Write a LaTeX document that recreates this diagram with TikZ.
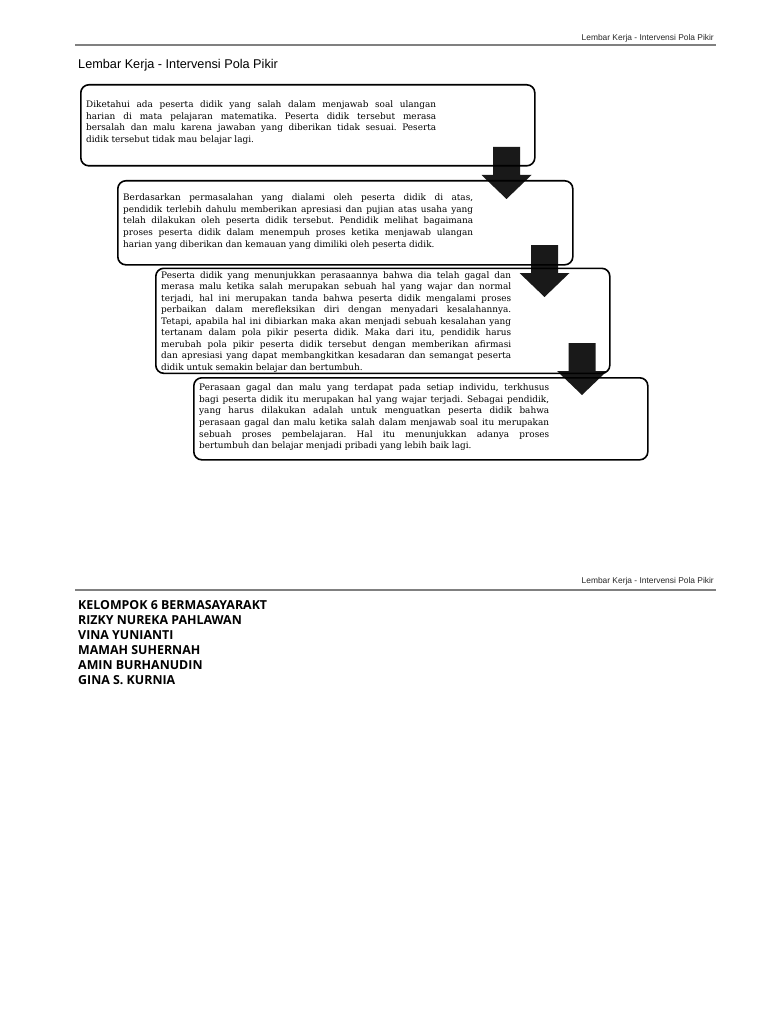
\documentclass[tikz,border=0pt]{standalone}
\usepackage{fontspec}
\setmainfont{DejaVu Serif}
\newfontfamily\hdrfont{Liberation Sans}
\newfontfamily\namefont{Open Sans}
\begin{document}
\begin{tikzpicture}[x=1pt,y=-1pt]
\tikzset{
  box/.style={draw=black, line width=1.6pt, rounded corners=8pt, minimum width=#1, minimum height=81pt, inner sep=0pt, anchor=north west},
  txt/.style={anchor=north west, inner sep=0pt, text width=350pt, align=justify, font=\frenchspacing\fontsize{8.9}{11.7}\selectfont},
  smallhdr/.style={anchor=east, inner sep=0pt, font=\hdrfont\fontsize{8.4}{10}\selectfont, text=black!85},
  rule/.style={draw=black!50, line width=2pt},
  names/.style={anchor=north west, inner sep=0pt, align=left, font=\namefont\bfseries\fontsize{12.4}{15}\selectfont},
  blockarrow/.pic={\fill[black!90] (-13.5,0) -- (13.5,0) -- (13.5,28) -- (25,28) -- (0,52) -- (-25,28) -- (-13.5,28) -- cycle;}
}
\fill[white] (0,0) rectangle (768,1024);
\useasboundingbox (0,0) rectangle (768,1024);

% header
\node[smallhdr] (h1) at (714,38) {Lembar Kerja - Intervensi Pola Pikir};
\coordinate (r1a) at (75,45);
\coordinate (r1b) at (716,45);
\draw[rule] (r1a) -- (r1b);
\node[anchor=west, inner sep=0pt, font=\hdrfont\fontsize{12.7}{15}\selectfont] (title) at (78,65) {Lembar Kerja - Intervensi Pola Pikir};

% arrows (behind boxes)
\pic at (506.5,147) {blockarrow};
\pic at (544.5,245) {blockarrow};
\pic at (582,343) {blockarrow};

% boxes
\node[box=454pt] (b1) at (80,84) {};
\node[box=455pt, minimum height=84pt] (b2) at (117,180) {};
\node[box=454pt, minimum height=105pt] (b3) at (155,267.5) {};
\node[box=454pt, minimum height=82pt] (b4) at (193,377) {};

\node[txt] (t1) at (86,100.5) {Diketahui ada peserta didik yang salah dalam menjawab soal ulangan\linebreak
harian di mata pelajaran matematika. Peserta didik tersebut merasa\linebreak
bersalah dan malu karena jawaban yang diberikan tidak sesuai. Peserta\linebreak
didik tersebut tidak mau belajar lagi.};

\node[txt] (t2) at (123,193.5) {Berdasarkan permasalahan yang dialami oleh peserta didik di atas,\linebreak
pendidik terlebih dahulu memberikan apresiasi dan pujian atas usaha yang\linebreak
telah dilakukan oleh peserta didik tersebut. Pendidik melihat bagaimana\linebreak
proses peserta didik dalam menempuh proses ketika menjawab ulangan\linebreak
harian yang diberikan dan kemauan yang dimiliki oleh peserta didik.};

\node[txt, font=\frenchspacing\fontsize{8.9}{11.45}\selectfont] (t3) at (161,271.5) {Peserta didik yang menunjukkan perasaannya bahwa dia telah gagal dan\linebreak
merasa malu ketika salah merupakan sebuah hal yang wajar dan normal\linebreak
terjadi, hal ini merupakan tanda bahwa peserta didik mengalami proses\linebreak
perbaikan dalam merefleksikan diri dengan menyadari kesalahannya.\linebreak
Tetapi, apabila hal ini dibiarkan maka akan menjadi sebuah kesalahan yang\linebreak
tertanam dalam pola pikir peserta didik. Maka dari itu, pendidik harus\linebreak
merubah pola pikir peserta didik tersebut dengan memberikan afirmasi\linebreak
dan apresiasi yang dapat membangkitkan kesadaran dan semangat peserta\linebreak
didik untuk semakin belajar dan bertumbuh.};

\node[txt] (t4) at (199,383.5) {Perasaan gagal dan malu yang terdapat pada setiap individu, terkhusus\linebreak
bagi peserta didik itu merupakan hal yang wajar terjadi. Sebagai pendidik,\linebreak
yang harus dilakukan adalah untuk menguatkan peserta didik bahwa\linebreak
perasaan gagal dan malu ketika salah dalam menjawab soal itu merupakan\linebreak
sebuah proses pembelajaran. Hal itu menunjukkan adanya proses\linebreak
bertumbuh dan belajar menjadi pribadi yang lebih baik lagi.};

% second header
\node[smallhdr] (h2) at (714,581) {Lembar Kerja - Intervensi Pola Pikir};
\coordinate (r2a) at (75,590);
\coordinate (r2b) at (716,590);
\draw[rule] (r2a) -- (r2b);

\node[names] (nm) at (78,600.5) {KELOMPOK 6 BERMASAYARAKT\\
RIZKY NUREKA PAHLAWAN\\
VINA YUNIANTI\\
MAMAH SUHERNAH\\
AMIN BURHANUDIN\\
GINA S. KURNIA};
\end{tikzpicture}
\end{document}
